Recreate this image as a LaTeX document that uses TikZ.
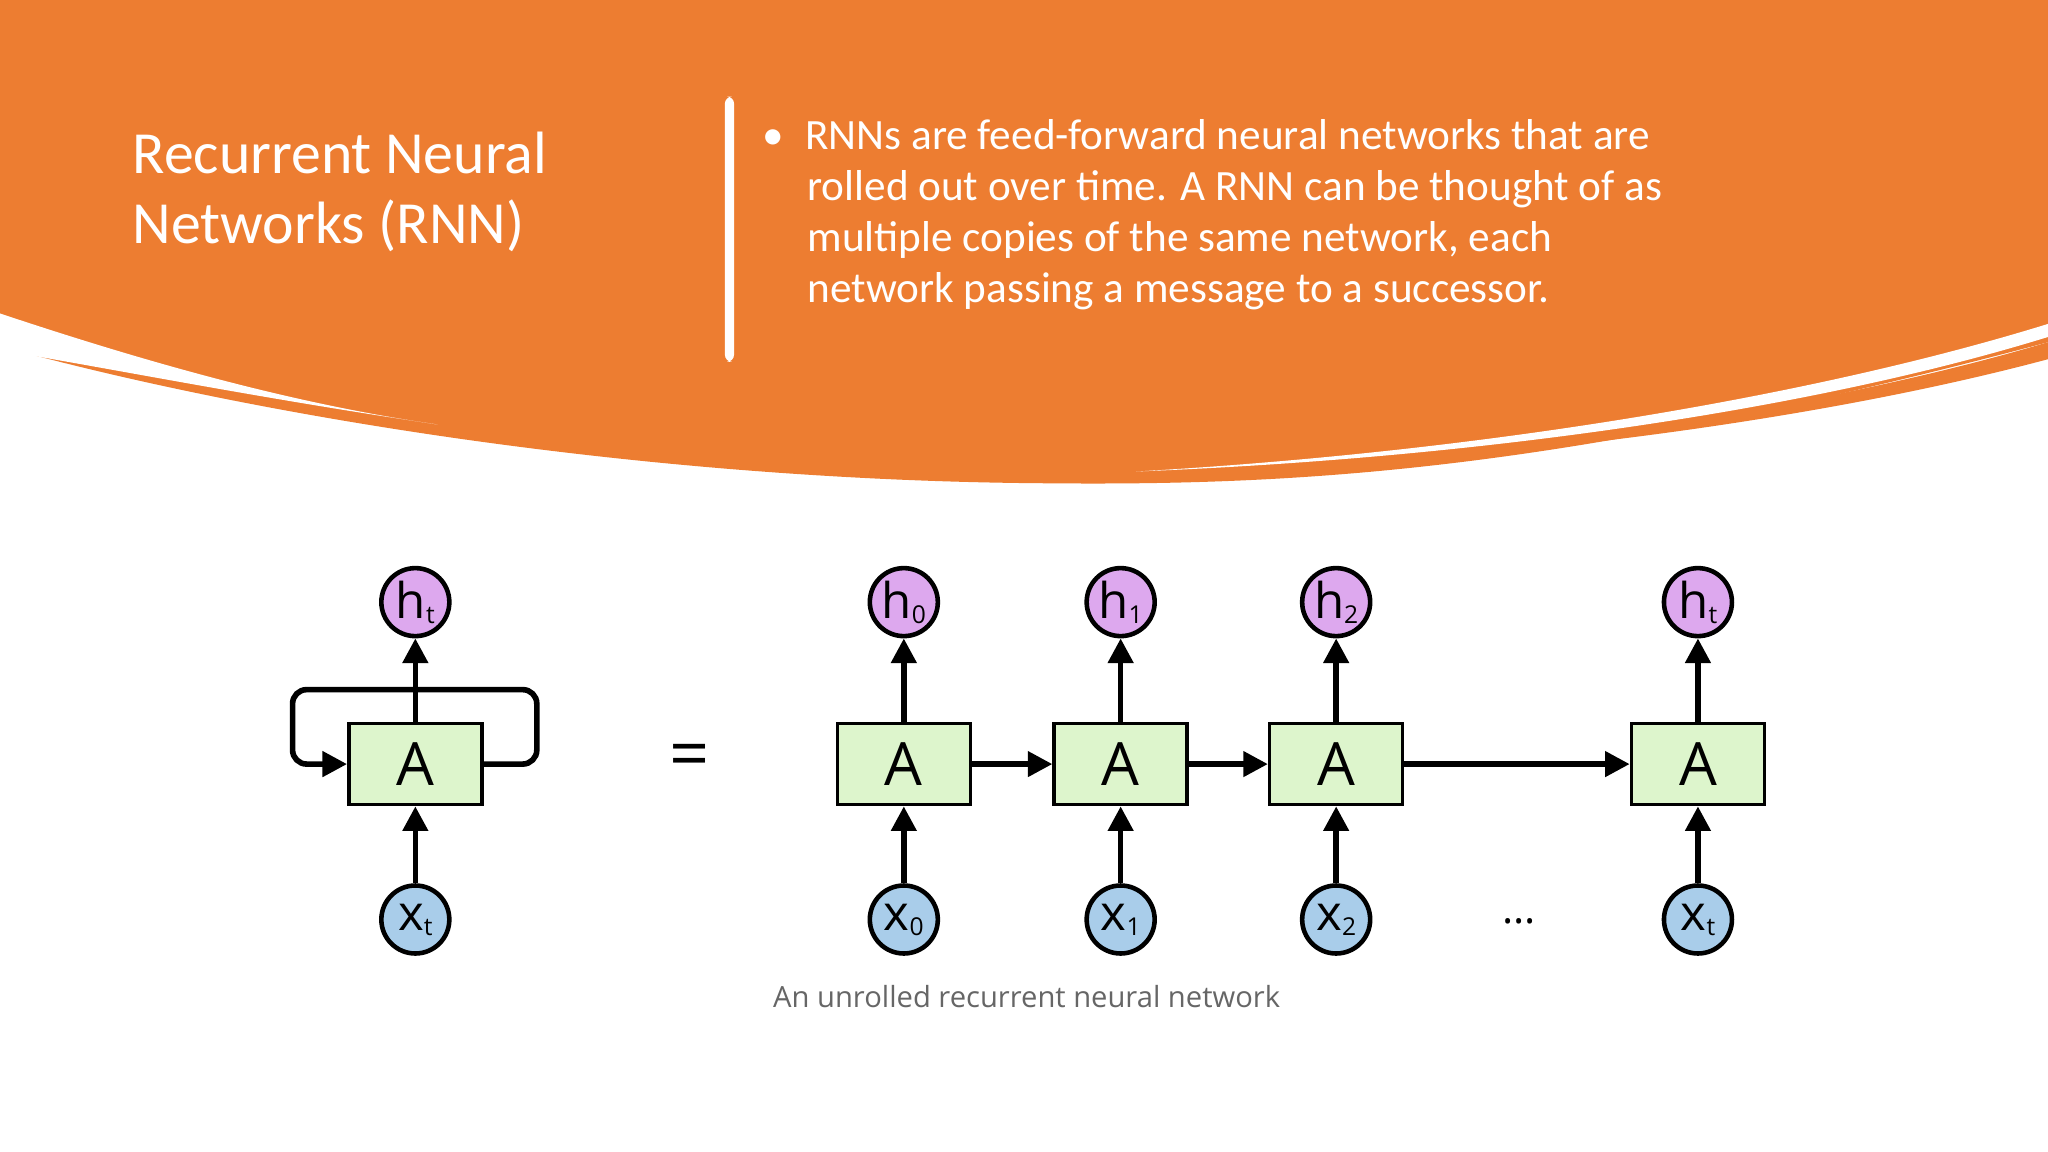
\documentclass[tikz,border=0pt]{standalone}
\usepackage{fontspec}
\setmainfont{Carlito}
\newfontfamily\diag{Open Sans}
\usetikzlibrary{arrows.meta}
\definecolor{org}{HTML}{ED7D31}
\definecolor{hc}{HTML}{DDA8EE}
\definecolor{xc}{HTML}{A9CDEA}
\definecolor{ac}{HTML}{DDF5CC}
\begin{document}
\begin{tikzpicture}[x=0.013061cm,y=-0.013061cm,
 circ/.style={circle,draw=black,line width=1.3pt,minimum size=0.68cm,inner sep=0pt,font=\diag\fontsize{14}{14}\selectfont},
 hn/.style={circ,fill=hc},
 xn/.style={circ,fill=xc},
 box/.style={draw=black,line width=1pt,fill=ac,minimum width=1.33cm,minimum height=0.81cm,font=\diag\fontsize{17}{17}\selectfont},
 arr/.style={line width=1.6pt,-{Triangle[length=7pt,width=7pt]}}]
\useasboundingbox (0,0) rectangle (1568,882);
\fill[white] (0,0) rectangle (1568,882);
% orange header
\fill[org] (0,0) -- (1568,0) -- (1568,262) .. controls (1200,360) and (1000,372) .. (800,370) .. controls (500,368) and (200,320) .. (0,265) -- cycle;
\fill[white] (0,240) .. controls (120,280) and (230,310) .. (335,325) .. controls (200,305) and (100,285) .. (0,268) -- cycle;
\fill[white] (870,361) .. controls (1150,345) and (1400,300) .. (1568,248) -- (1568,258) .. controls (1400,310) and (1150,350) .. (870,361) -- cycle;
\fill[org] (875,363) .. controls (1150,352) and (1400,312) .. (1568,262) -- (1568,275) .. controls (1400,320) and (1150,356) .. (875,363) -- cycle;
\node[anchor=west,white,align=left,font=\fontsize{17}{20}\selectfont] (title) at (92,147) {Recurrent Neural\\Networks (RNN)};
\fill[white,rounded corners=2pt] (555,74) rectangle (562,277);
\node[anchor=north west,white,align=left,font=\fontsize{12.3}{14.5}\selectfont,inner sep=0pt] (txt) at (583,91) {\textbullet\hspace{0.5em}RNNs are feed-forward neural networks that are\\\hspace{1.05em}rolled out over time. A RNN can be thought of as\\\hspace{1.05em}multiple copies of the same network, each\\\hspace{1.05em}network passing a message to a successor.};
% left folded
\node[box] (A) at (318,585) {A};
\node[hn] (h) at (318,461) {h\raisebox{-0.1em}{\fontsize{7}{7}\selectfont t}};
\node[xn] (x) at (318,704) {x\raisebox{-0.1em}{\fontsize{7}{7}\selectfont t}};
\draw[arr] (x) -- (A);
\draw[arr] (A) -- (h);
\draw[arr,rounded corners=4pt] (A.east) -- (411,585) -- (411,528) -- (224,528) -- (224,585) -- (A.west);
\node[font=\diag\fontsize{20}{20}\selectfont] (eq) at (528,583) {=};
% unrolled
\foreach \n/\xx/\s in {0/692/0,1/858/1,2/1023/2,3/1300/t}{
 \node[box] (A\n) at (\xx,585) {A};
 \node[hn] (h\n) at (\xx,461) {h\raisebox{-0.1em}{\fontsize{7}{7}\selectfont \s}};
 \node[xn] (x\n) at (\xx,704) {x\raisebox{-0.1em}{\fontsize{7}{7}\selectfont \s}};
 \draw[arr] (x\n) -- (A\n);
 \draw[arr] (A\n) -- (h\n);
}
\draw[arr] (A0) -- (A1);
\draw[arr] (A1) -- (A2);
\draw[arr] (A2) -- (A3);
\node[font=\diag\fontsize{12}{12}\selectfont] (dots) at (1163,705) {...};
\node[text=black!60,font=\diag\fontsize{8.3}{10}\selectfont] (cap) at (786,763) {An unrolled recurrent neural network};
\end{tikzpicture}
\end{document}
